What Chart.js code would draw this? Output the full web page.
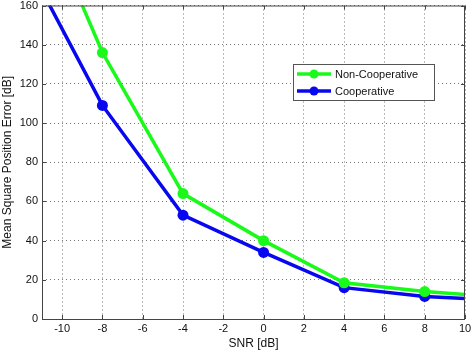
<!DOCTYPE html>
<html>
<head>
<meta charset="utf-8">
<script src="https://cdn.jsdelivr.net/npm/chart.js@4.4.0/dist/chart.umd.min.js"></script>
<style>
  html, body { margin: 0; padding: 0; background: #fff; }
  #wrap { width: 474px; height: 351px; }
</style>
</head>
<body>
<div id="wrap"><canvas id="myChart" width="474" height="351"></canvas></div>
<script>
const snr = [-12, -8, -4, 0, 4, 8, 12];
const nonCoop = [232, 136, 64, 40, 18.5, 14, 11];
const coop = [187, 109, 53, 34, 16, 11.5, 9.5];
const xTicks = [-10, -8, -6, -4, -2, 0, 2, 4, 6, 8, 10];
const yTicks = [0, 20, 40, 60, 80, 100, 120, 140, 160];
const seriesNames = ["Non-Cooperative", "Cooperative"];
const seriesColors = ["#1afa1a", "#0808f0"];

const font = "'Liberation Sans', Arial, sans-serif";

const toPoints = (ys) => snr.map((x, i) => ({ x, y: ys[i] }));

const frameLegend = {
  id: "frameLegend",
  afterDraw: (chart) => {
    const ctx = chart.ctx;
    const { left, right, top, bottom } = chart.chartArea;
    ctx.save();
    ctx.strokeStyle = "#444";
    ctx.lineWidth = 1;
    ctx.strokeRect(left + 0.5, top + 0.5, right - left - 1, bottom - top);
    // small inward tick marks
    const xs = chart.scales.x, ys = chart.scales.y;
    ctx.beginPath();
    xTicks.forEach((v) => {
      const px = Math.round(xs.getPixelForValue(v)) + 0.5;
      ctx.moveTo(px, bottom); ctx.lineTo(px, bottom - 4);
      ctx.moveTo(px, top); ctx.lineTo(px, top + 4);
    });
    yTicks.forEach((v) => {
      const py = Math.round(ys.getPixelForValue(v)) + 0.5;
      ctx.moveTo(left, py); ctx.lineTo(left + 4, py);
      ctx.moveTo(right, py); ctx.lineTo(right - 4, py);
    });
    ctx.stroke();

    // legend box
    const bx = 293, by = 64, bw = 141, bh = 36;
    ctx.fillStyle = "#fff";
    ctx.fillRect(bx, by, bw, bh);
    ctx.strokeStyle = "#555";
    ctx.strokeRect(bx + 0.5, by + 0.5, bw, bh);
    ctx.font = "11px " + font;
    ctx.textBaseline = "middle";
    seriesNames.forEach((name, i) => {
      const ly = by + 10 + i * 17;
      ctx.strokeStyle = seriesColors[i];
      ctx.lineWidth = 3.5;
      ctx.beginPath();
      ctx.moveTo(bx + 4, ly); ctx.lineTo(bx + 38, ly);
      ctx.stroke();
      ctx.fillStyle = seriesColors[i];
      ctx.beginPath();
      ctx.arc(bx + 21, ly, 4.5, 0, Math.PI * 2);
      ctx.fill();
      ctx.fillStyle = "#111";
      ctx.fillText(name, bx + 42, ly + 1);
    });
    ctx.restore();
  },
};

const ctx = document.getElementById("myChart").getContext("2d");
new Chart(ctx, {
  type: "line",
  data: {
    datasets: [
      {
        label: seriesNames[0],
        data: toPoints(nonCoop),
        borderColor: seriesColors[0],
        backgroundColor: seriesColors[0],
        borderWidth: 3.5,
        pointRadius: 5.5,
        pointBorderWidth: 0,
        tension: 0,
      },
      {
        label: seriesNames[1],
        data: toPoints(coop),
        borderColor: seriesColors[1],
        backgroundColor: seriesColors[1],
        borderWidth: 3.5,
        pointRadius: 5.5,
        pointBorderWidth: 0,
        tension: 0,
      },
    ],
  },
  options: {
    responsive: false,
    animation: false,
    layout: { padding: { left: 0, right: 9, top: 4, bottom: 0 } },
    plugins: { legend: { display: false }, tooltip: { enabled: false } },
    scales: {
      x: {
        type: "linear",
        min: -11,
        max: 10,
        afterBuildTicks: (s) => { s.ticks = xTicks.map((v) => ({ value: v })); },
        afterFit: (s) => { s.height = 32; s.paddingLeft = 0; s.paddingRight = 0; },
        ticks: { color: "#111", font: { family: font, size: 11 }, padding: 3, maxRotation: 0 },
        grid: { color: "#777", drawTicks: false, lineWidth: 1 },
        border: { display: false, dash: [1, 3] },
        title: { display: true, text: "SNR [dB]", color: "#111", font: { family: font, size: 12 }, padding: { top: 2, bottom: 0 } },
      },
      y: {
        type: "linear",
        min: 0,
        max: 160,
        afterBuildTicks: (s) => { s.ticks = yTicks.map((v) => ({ value: v })); },
        afterFit: (s) => { s.width = 42; s.paddingTop = 0; s.paddingBottom = 0; },
        ticks: { color: "#111", font: { family: font, size: 11 }, padding: 4 },
        grid: { color: "#777", drawTicks: false, lineWidth: 1 },
        border: { display: false, dash: [1, 3] },
        title: { display: true, text: "Mean Square Position Error [dB]", color: "#111", font: { family: font, size: 12 }, padding: { top: 0, bottom: 2 } },
      },
    },
  },
  plugins: [frameLegend],
});
</script>
</body>
</html>
